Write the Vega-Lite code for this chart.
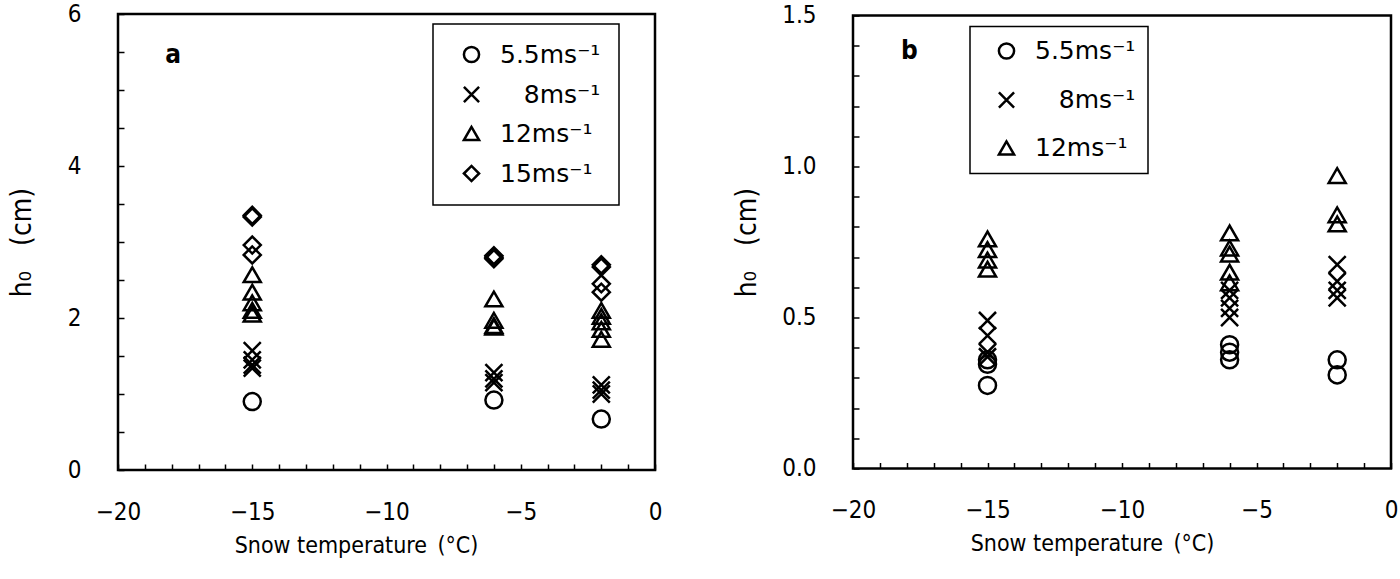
{
  "$schema": "https://vega.github.io/schema/vega-lite/v6.json",
  "background": "white",
  "padding": {"left": 7, "top": 0, "right": 5, "bottom": 5},
  "datasets": {
    "a": [
      {"temp": -15, "h0": 0.90, "speed": "5.5ms⁻¹"},
      {"temp": -15, "h0": 1.57, "speed": "\u200b\u00a0\u00a0\u00a08ms⁻¹"},
      {"temp": -15, "h0": 1.45, "speed": "\u200b\u00a0\u00a0\u00a08ms⁻¹"},
      {"temp": -15, "h0": 1.38, "speed": "\u200b\u00a0\u00a0\u00a08ms⁻¹"},
      {"temp": -15, "h0": 1.34, "speed": "\u200b\u00a0\u00a0\u00a08ms⁻¹"},
      {"temp": -15, "h0": 2.57, "speed": "12ms⁻¹"},
      {"temp": -15, "h0": 2.34, "speed": "12ms⁻¹"},
      {"temp": -15, "h0": 2.20, "speed": "12ms⁻¹"},
      {"temp": -15, "h0": 2.10, "speed": "12ms⁻¹"},
      {"temp": -15, "h0": 2.05, "speed": "12ms⁻¹"},
      {"temp": -15, "h0": 3.33, "speed": "15ms⁻¹"},
      {"temp": -15, "h0": 3.35, "speed": "15ms⁻¹"},
      {"temp": -15, "h0": 2.96, "speed": "15ms⁻¹"},
      {"temp": -15, "h0": 2.83, "speed": "15ms⁻¹"},
      {"temp": -6, "h0": 0.92, "speed": "5.5ms⁻¹"},
      {"temp": -6, "h0": 1.28, "speed": "\u200b\u00a0\u00a0\u00a08ms⁻¹"},
      {"temp": -6, "h0": 1.20, "speed": "\u200b\u00a0\u00a0\u00a08ms⁻¹"},
      {"temp": -6, "h0": 1.15, "speed": "\u200b\u00a0\u00a0\u00a08ms⁻¹"},
      {"temp": -6, "h0": 2.25, "speed": "12ms⁻¹"},
      {"temp": -6, "h0": 1.97, "speed": "12ms⁻¹"},
      {"temp": -6, "h0": 1.90, "speed": "12ms⁻¹"},
      {"temp": -6, "h0": 1.88, "speed": "12ms⁻¹"},
      {"temp": -6, "h0": 2.80, "speed": "15ms⁻¹"},
      {"temp": -6, "h0": 2.82, "speed": "15ms⁻¹"},
      {"temp": -6, "h0": 2.78, "speed": "15ms⁻¹"},
      {"temp": -2, "h0": 0.67, "speed": "5.5ms⁻¹"},
      {"temp": -2, "h0": 1.12, "speed": "\u200b\u00a0\u00a0\u00a08ms⁻¹"},
      {"temp": -2, "h0": 1.05, "speed": "\u200b\u00a0\u00a0\u00a08ms⁻¹"},
      {"temp": -2, "h0": 1.00, "speed": "\u200b\u00a0\u00a0\u00a08ms⁻¹"},
      {"temp": -2, "h0": 2.10, "speed": "12ms⁻¹"},
      {"temp": -2, "h0": 2.02, "speed": "12ms⁻¹"},
      {"temp": -2, "h0": 1.95, "speed": "12ms⁻¹"},
      {"temp": -2, "h0": 1.85, "speed": "12ms⁻¹"},
      {"temp": -2, "h0": 1.72, "speed": "12ms⁻¹"},
      {"temp": -2, "h0": 2.70, "speed": "15ms⁻¹"},
      {"temp": -2, "h0": 2.67, "speed": "15ms⁻¹"},
      {"temp": -2, "h0": 2.45, "speed": "15ms⁻¹"},
      {"temp": -2, "h0": 2.34, "speed": "15ms⁻¹"}
    ],
    "b": [
      {"temp": -15, "h0": 0.275, "speed": "5.5ms⁻¹"},
      {"temp": -15, "h0": 0.345, "speed": "5.5ms⁻¹"},
      {"temp": -15, "h0": 0.36, "speed": "5.5ms⁻¹"},
      {"temp": -15, "h0": 0.49, "speed": "\u200b\u00a0\u00a0\u00a08ms⁻¹"},
      {"temp": -15, "h0": 0.44, "speed": "\u200b\u00a0\u00a0\u00a08ms⁻¹"},
      {"temp": -15, "h0": 0.385, "speed": "\u200b\u00a0\u00a0\u00a08ms⁻¹"},
      {"temp": -15, "h0": 0.37, "speed": "\u200b\u00a0\u00a0\u00a08ms⁻¹"},
      {"temp": -15, "h0": 0.76, "speed": "12ms⁻¹"},
      {"temp": -15, "h0": 0.725, "speed": "12ms⁻¹"},
      {"temp": -15, "h0": 0.69, "speed": "12ms⁻¹"},
      {"temp": -15, "h0": 0.66, "speed": "12ms⁻¹"},
      {"temp": -6, "h0": 0.41, "speed": "5.5ms⁻¹"},
      {"temp": -6, "h0": 0.385, "speed": "5.5ms⁻¹"},
      {"temp": -6, "h0": 0.36, "speed": "5.5ms⁻¹"},
      {"temp": -6, "h0": 0.59, "speed": "\u200b\u00a0\u00a0\u00a08ms⁻¹"},
      {"temp": -6, "h0": 0.565, "speed": "\u200b\u00a0\u00a0\u00a08ms⁻¹"},
      {"temp": -6, "h0": 0.53, "speed": "\u200b\u00a0\u00a0\u00a08ms⁻¹"},
      {"temp": -6, "h0": 0.50, "speed": "\u200b\u00a0\u00a0\u00a08ms⁻¹"},
      {"temp": -6, "h0": 0.78, "speed": "12ms⁻¹"},
      {"temp": -6, "h0": 0.73, "speed": "12ms⁻¹"},
      {"temp": -6, "h0": 0.71, "speed": "12ms⁻¹"},
      {"temp": -6, "h0": 0.65, "speed": "12ms⁻¹"},
      {"temp": -6, "h0": 0.615, "speed": "12ms⁻¹"},
      {"temp": -2, "h0": 0.36, "speed": "5.5ms⁻¹"},
      {"temp": -2, "h0": 0.31, "speed": "5.5ms⁻¹"},
      {"temp": -2, "h0": 0.675, "speed": "\u200b\u00a0\u00a0\u00a08ms⁻¹"},
      {"temp": -2, "h0": 0.62, "speed": "\u200b\u00a0\u00a0\u00a08ms⁻¹"},
      {"temp": -2, "h0": 0.59, "speed": "\u200b\u00a0\u00a0\u00a08ms⁻¹"},
      {"temp": -2, "h0": 0.565, "speed": "\u200b\u00a0\u00a0\u00a08ms⁻¹"},
      {"temp": -2, "h0": 0.97, "speed": "12ms⁻¹"},
      {"temp": -2, "h0": 0.84, "speed": "12ms⁻¹"},
      {"temp": -2, "h0": 0.81, "speed": "12ms⁻¹"}
    ]
  },
  "bounds": "flush",
  "spacing": 198,
  "center": true,
  "resolve": {"scale": {"shape": "independent", "x": "independent", "y": "independent"}},
  "hconcat": [
    {
      "width": 537,
      "height": 456,
      "layer": [
        {
          "data": {"name": "a"},
          "mark": {"type": "point", "filled": false, "color": "black", "size": 290, "strokeWidth": 2.5, "opacity": 1},
          "encoding": {
            "x": {
              "field": "temp", "type": "quantitative", "title": "Snow temperature\u2002(°C)",
              "scale": {"domain": [-20, 0], "nice": false, "zero": false},
              "axis": {
                "values": [-20, -19, -18, -17, -16, -15, -14, -13, -12, -11, -10, -9, -8, -7, -6, -5, -4, -3, -2, -1, 0],
                "labelExpr": "datum.value % 5 === 0 ? format(datum.value, 'd') : ''",
                "tickCount": 100, "titleX": 238
              }
            },
            "y": {
              "field": "h0", "type": "quantitative", "title": "h₀\u2003(cm)",
              "scale": {"domain": [0, 6], "nice": false},
              "axis": {
                "values": [0, 0.5, 1, 1.5, 2, 2.5, 3, 3.5, 4, 4.5, 5, 5.5, 6],
                "labelExpr": "datum.value % 2 === 0 ? format(datum.value, 'd') : ''",
                "tickCount": 100, "titlePadding": 31
              }
            },
            "shape": {
              "field": "speed", "type": "nominal",
              "scale": {
                "domain": ["5.5ms⁻¹", "\u200b\u00a0\u00a0\u00a08ms⁻¹", "12ms⁻¹", "15ms⁻¹"],
                "range": ["circle", "M-1,-1L1,1M1,-1L-1,1", "triangle-up", "diamond"]
              },
              "legend": {
                "orient": "none", "legendX": 315, "legendY": 10, "title": null,
                "strokeColor": "black", "fillColor": "white", "padding": 18,
                "rowPadding": 13, "symbolOffset": 8, "labelOffset": 16
              }
            }
          }
        },
        {
          "data": {"values": [{}]},
          "mark": {"type": "text", "fontSize": 26, "fontWeight": "bold", "color": "black"},
          "encoding": {"x": {"datum": -17.95}, "y": {"datum": 5.46}, "text": {"value": "a"}}
        }
      ]
    },
    {
      "width": 538,
      "height": 453,
      "layer": [
        {
          "data": {"name": "b"},
          "mark": {"type": "point", "filled": false, "color": "black", "size": 290, "strokeWidth": 2.5, "opacity": 1},
          "encoding": {
            "x": {
              "field": "temp", "type": "quantitative", "title": "Snow temperature\u2002(°C)",
              "scale": {"domain": [-20, 0], "nice": false, "zero": false},
              "axis": {
                "values": [-20, -19, -18, -17, -16, -15, -14, -13, -12, -11, -10, -9, -8, -7, -6, -5, -4, -3, -2, -1, 0],
                "labelExpr": "datum.value % 5 === 0 ? format(datum.value, 'd') : ''",
                "tickCount": 100, "titleX": 239
              }
            },
            "y": {
              "field": "h0", "type": "quantitative", "title": "h₀\u2003(cm)",
              "scale": {"domain": [0, 1.5], "nice": false},
              "axis": {
                "values": [0, 0.1, 0.2, 0.3, 0.4, 0.5, 0.6, 0.7, 0.8, 0.9, 1, 1.1, 1.2, 1.3, 1.4, 1.5],
                "labelExpr": "abs(datum.value * 2 - round(datum.value * 2)) < 0.000001 ? format(datum.value, '.1f') : ''",
                "tickCount": 100, "titlePadding": 20
              }
            },
            "shape": {
              "field": "speed", "type": "nominal",
              "scale": {
                "domain": ["5.5ms⁻¹", "\u200b\u00a0\u00a0\u00a08ms⁻¹", "12ms⁻¹"],
                "range": ["circle", "M-1,-1L1,1M1,-1L-1,1", "triangle-up"]
              },
              "legend": {
                "orient": "none", "legendX": 117, "legendY": 11, "title": null,
                "strokeColor": "black", "fillColor": "white", "padding": 12,
                "rowPadding": 22, "symbolOffset": 12, "labelOffset": 16
              }
            }
          }
        },
        {
          "data": {"values": [{}]},
          "mark": {"type": "text", "fontSize": 26, "fontWeight": "bold", "color": "black"},
          "encoding": {"x": {"datum": -17.9}, "y": {"datum": 1.384}, "text": {"value": "b"}}
        }
      ]
    }
  ],
  "config": {
    "font": "DejaVu Sans Condensed, DejaVu Sans, sans-serif",
    "view": {"stroke": "black", "strokeWidth": 2.5},
    "axis": {
      "domain": false, "grid": false, "tickColor": "black", "tickSize": -6, "tickWidth": 1.5,
      "labelFontSize": 24, "labelColor": "black", "labelOverlap": false, "labelFlush": false,
      "titleFontSize": 24, "titleFontWeight": "normal", "titleColor": "black"
    },
    "axisY": {"labelPadding": 43, "titleFontSize": 28},
    "axisX": {"labelPadding": 36, "titlePadding": 10, "titleFontSize": 23},
    "legend": {
      "labelFont": "DejaVu Sans, sans-serif", "labelFontSize": 25, "labelColor": "black",
      "symbolSize": 230, "symbolStrokeWidth": 2.5, "strokeWidth": 1.5,
      "symbolStrokeColor": "black", "symbolFillColor": "transparent", "symbolOpacity": 1
    }
  }
}
